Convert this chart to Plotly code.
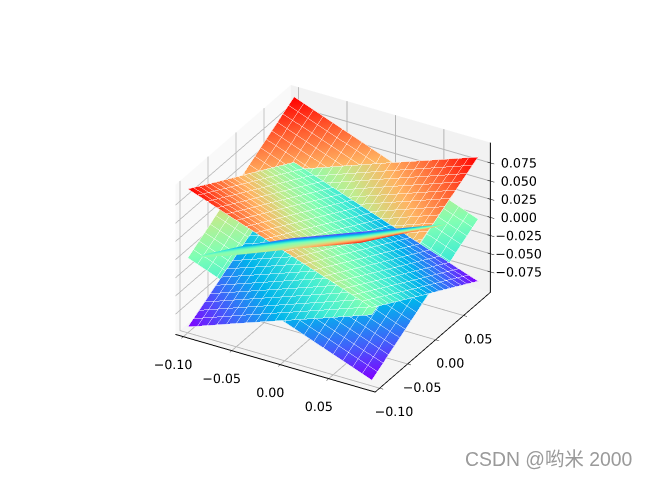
import plotly.graph_objects as go

x_grid = [-0.10, -0.05, 0.0, 0.05, 0.09]
y_grid = [-0.10, -0.05, 0.0, 0.05, 0.09]

z_back = [
    [0.0, -0.025, -0.05, -0.075, -0.095],
    [0.025, 0.0, -0.025, -0.05, -0.07],
    [0.05, 0.025, 0.0, -0.025, -0.045],
    [0.075, 0.05, 0.025, 0.0, -0.02],
    [0.095, 0.07, 0.045, 0.02, 0.0],
]
z_rising = [
    [-0.095, -0.071, -0.0475, -0.024, -0.005],
    [-0.071, -0.0475, -0.024, 0.0, 0.019],
    [-0.0475, -0.024, 0.0, 0.024, 0.043],
    [-0.024, 0.0, 0.024, 0.0475, 0.0665],
    [-0.005, 0.019, 0.043, 0.0665, 0.0855],
]
z_falling = [
    [0.095, 0.071, 0.0475, 0.024, 0.005],
    [0.071, 0.0475, 0.024, 0.0, -0.019],
    [0.0475, 0.024, 0.0, -0.024, -0.043],
    [0.024, 0.0, -0.024, -0.0475, -0.0665],
    [0.005, -0.019, -0.043, -0.0665, -0.0855],
]

# the thin sliver along x = y
sliver_t = [-0.093, -0.088, -0.066, -0.032, 0.013, 0.036, 0.058, 0.07]
sliver_top = [0.0, 0.002, 0.006, 0.008, 0.004, 0.002, 0.0, -0.001]
sliver_mid = [0.0, 0.0, 0.001, 0.001, -0.003, -0.0025, -0.002, -0.001]
sliver_low = [0.0, -0.002, -0.005, -0.007, -0.011, -0.007, -0.004, -0.001]
color_top = [0.5, 0.42, 0.25, 0.08, 0.05, 0.1, 0.3, 0.5]
color_mid = [0.5, 0.5, 0.5, 0.5, 0.5, 0.5, 0.55, 0.55]
color_low = [0.5, 0.55, 0.55, 0.7, 0.98, 0.95, 0.8, 0.6]

x_ticks = [-0.10, -0.05, 0.0, 0.05]
y_ticks = [-0.10, -0.05, 0.0, 0.05]
z_ticks = [-0.075, -0.05, -0.025, 0.0, 0.025, 0.05, 0.075]
x_labels = ["−0.10", "−0.05", "0.00", "0.05"]
y_labels = ["−0.10", "−0.05", "0.00", "0.05"]
z_labels = ["−0.075", "−0.050", "−0.025", "0.000", "0.025", "0.050", "0.075"]

rainbow = [
    [0.0, "#8000ff"], [0.125, "#4062fa"], [0.25, "#00b4ec"], [0.375, "#40ecd4"],
    [0.5, "#80ffb4"], [0.625, "#c0ec8e"], [0.75, "#ffb462"], [0.875, "#ff6232"],
    [1.0, "#ff0000"],
]

# the page body has an 8px margin, so the figure is 8px smaller than the window each way
W, H = 639, 470

flat = dict(ambient=1, diffuse=0, specular=0, roughness=1, fresnel=0)
seam = dict(show=True, start=-0.1, end=0.09, size=0.01, color="white", width=1)
camera = dict(eye=dict(x=0.857, y=-1.484, z=0.989), center=dict(x=0, y=0, z=0), up=dict(x=0, y=0, z=1),
              projection=dict(type="orthographic"))
domain = dict(x=[19 / W, 631 / W], y=[1 - 461 / H, 1.0])
x_range = [-0.108, 0.098]
y_range = [-0.108, 0.098]
z_range = [-0.103, 0.103]
tick_font = dict(family="DejaVu Sans", size=12.6, color="black")


def plane(z, scene):
    return go.Surface(x=x_grid, y=y_grid, z=z, scene=scene, colorscale=rainbow, showscale=False,
                      lighting=flat, hoverinfo="skip")


def seams(z, scene):
    return go.Surface(x=x_grid, y=y_grid, z=z, scene=scene, colorscale=rainbow, showscale=False,
                      hidesurface=True, opacity=0.22, lighting=flat, hoverinfo="skip",
                      contours=dict(x=seam, y=seam))


def axis(rng, ticks, wall, line=True):
    return dict(range=rng, tickvals=ticks, title=dict(text=""), backgroundcolor=wall,
                showbackground=True, gridcolor="#b4b4b4", gridwidth=2, zeroline=False,
                showline=line, linecolor="black", linewidth=2, ticks="outside" if line else "",
                ticklen=4, tickcolor="black", showspikes=False, showticklabels=False)


def hidden(rng, aspect=1):
    # same centre, range stretched by aspect, so one data unit stays the same size on screen
    mid = (rng[0] + rng[1]) / 2
    half = (rng[1] - rng[0]) / 2 * aspect
    return dict(range=[mid - half, mid + half], visible=False, showbackground=False)


def scene_layout(kind="plain"):
    aspect = dict(x=1, y=1, z=0.75)
    if kind == "walls":
        axes = dict(xaxis=axis(x_range, x_ticks, "#f9f9f9"),
                    yaxis=axis(y_range, y_ticks, "#f2f2f2"),
                    zaxis=axis(z_range, z_ticks, "#f5f5f5", line=False))
    elif kind == "labels":
        axes = dict(xaxis=hidden(x_range, 3), yaxis=hidden(y_range, 3), zaxis=hidden(z_range, 3))
        aspect = dict(x=3, y=3, z=2.25)
    else:
        axes = dict(xaxis=hidden(x_range), yaxis=hidden(y_range), zaxis=hidden(z_range))
    return dict(domain=domain, camera=camera, aspectmode="manual",
                aspectratio=aspect, bgcolor="rgba(0,0,0,0)", **axes)


def labels(x, y, z, text):
    return go.Scatter3d(x=x, y=y, z=z, mode="text", text=text, textposition="middle center",
                        textfont=tick_font, scene="scene8", hoverinfo="skip")


fig = go.Figure()
fig.add_trace(plane(z_back, "scene"))
# z axis sits on the right hand edge, plotly would put it on the left
fig.add_trace(go.Scatter3d(x=[x_range[1], x_range[1]], y=[y_range[1], y_range[1]],
                           z=z_range, mode="lines", line=dict(color="black", width=2),
                           scene="scene", hoverinfo="skip"))
fig.add_trace(seams(z_back, "scene2"))
fig.add_trace(plane(z_rising, "scene3"))
fig.add_trace(seams(z_rising, "scene4"))
fig.add_trace(plane(z_falling, "scene5"))
fig.add_trace(seams(z_falling, "scene6"))
fig.add_trace(go.Surface(x=[sliver_t, sliver_t, sliver_t], y=[sliver_t, sliver_t, sliver_t],
                         z=[sliver_top, sliver_mid, sliver_low],
                         surfacecolor=[color_top, color_mid, color_low], cmin=0, cmax=1,
                         scene="scene7", colorscale=rainbow, showscale=False, lighting=flat,
                         hoverinfo="skip"))

# tick labels and z ticks live in a stretched scene so they can sit outside the box
tick_x, tick_y, tick_z = [], [], []
for t in z_ticks:
    tick_x += [x_range[1] - 0.003, x_range[1] + 0.004, None]
    tick_y += [y_range[1], y_range[1], None]
    tick_z += [t, t, None]
fig.add_trace(go.Scatter3d(x=tick_x, y=tick_y, z=tick_z, mode="lines", line=dict(color="black", width=1),
                           scene="scene8", hoverinfo="skip"))
fig.add_trace(labels(x_ticks, [y_range[0] - 0.018] * len(x_ticks), [z_range[0] - 0.026] * len(x_ticks), x_labels))
fig.add_trace(labels([x_range[1] + 0.015] * len(y_ticks), y_ticks, [z_range[0] - 0.026] * len(y_ticks), y_labels))
fig.add_trace(labels([x_range[1] + 0.0185] * len(z_ticks), [y_range[1] + 0.0185] * len(z_ticks),
                     [t - 0.005 for t in z_ticks], z_labels))

fig.update_layout(
    width=W, height=H, margin=dict(l=0, r=0, t=0, b=0), paper_bgcolor="white", showlegend=False,
    scene=scene_layout("walls"), scene2=scene_layout(), scene3=scene_layout(),
    scene4=scene_layout(), scene5=scene_layout(), scene6=scene_layout(),
    scene7=scene_layout(), scene8=scene_layout("labels"),
)
fig.add_annotation(text="CSDN @哟米 2000", x=627 / W, y=1 - 451 / H, xref="paper", yref="paper",
                   xanchor="right", yanchor="middle", showarrow=False,
                   font=dict(family="Liberation Sans, Noto Sans CJK SC", size=19.4, color="#9a9a9a"))
# grey strip down the right edge of the screenshot
fig.add_annotation(text="\u00a0", x=1, y=0.5, xref="paper", yref="paper", xanchor="right", yanchor="middle",
                   showarrow=False, width=6, height=H, bgcolor="#f0f0f0", borderpad=0, borderwidth=0)
fig.write_html("out.html")
